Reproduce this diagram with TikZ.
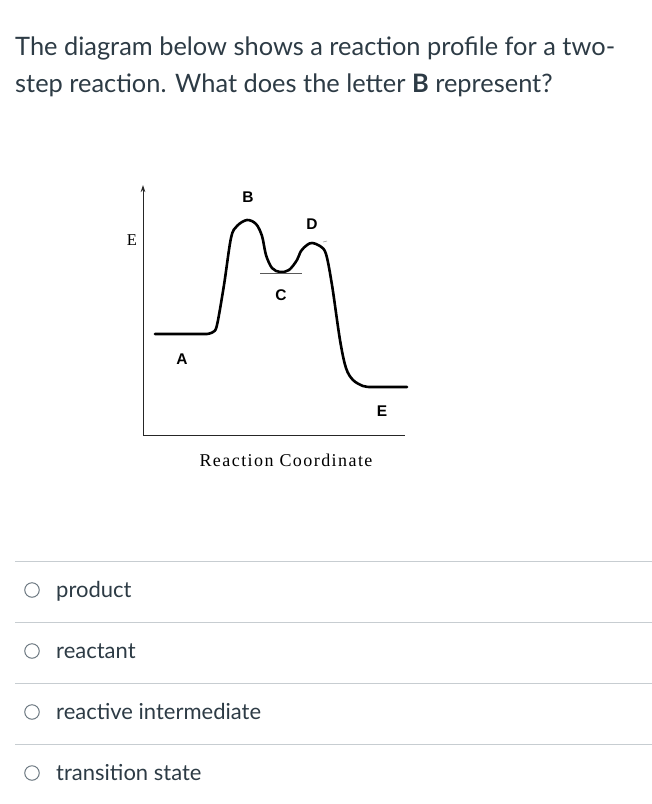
\documentclass[tikz,border=0pt]{standalone}
\usepackage{fontspec}
\setmainfont{Lato}
\newfontfamily\serifplot[LetterSpace=8]{Liberation Serif}
\newfontfamily\serifaxis{Liberation Serif}
\newfontfamily\sansbold{Liberation Sans}
\usetikzlibrary{arrows.meta}
\definecolor{txt}{HTML}{2D3B45}
\definecolor{rule}{HTML}{C7CDD1}
\definecolor{radio}{HTML}{6B7780}
\tikzset{
  qtext/.style={anchor=base west, inner sep=0pt, text=txt, font=\fontsize{25.4}{29}\selectfont},
  opttext/.style={anchor=base west, inner sep=0pt, text=txt, font=\fontsize{22}{26}\selectfont},
  lbl/.style={inner sep=0pt, font=\sansbold\bfseries\fontsize{15.5}{18}\selectfont},
  sep/.style={draw=rule, line width=0.9pt},
  radiobtn/.style={circle, draw=radio, line width=1pt, minimum size=14.5pt, inner sep=0pt},
  curve/.style={line width=2.6pt, line join=round, line cap=round},
  axis/.style={line width=1pt, draw=black!85},
}
\begin{document}
\begin{tikzpicture}[x=1pt,y=-1pt]
\useasboundingbox (0,0) rectangle (652,804);
% question
\node[qtext] (q1) at (15,55) {The diagram below shows a reaction profile for a two-};
\node[qtext] (q2) at (15,92) {step reaction. What does the letter \textbf{B} represent?};
% axes
\coordinate (org) at (143,435);
\coordinate (ytop) at (143,185);
\coordinate (xend) at (405,435);
\draw[axis,-{Stealth[length=7pt,width=4.5pt]}] (org) -- (ytop);
\draw[axis] (org) -- (xend);
% curve
\draw[curve] (155,334) -- (207,334)
  plot[smooth, tension=0.55] coordinates {(207,334) (213,332) (217,325) (224,285) (231,238) (237,226) (247,220) (256,224) (262,236) (266,255) (272,268) (280,272) (289,270) (297,260) (301,251) (307,245) (312,243) (320,246) (326,254) (332,285) (340,340) (346,368) (353,380) (363,386) (370,387)}
  -- (407,387);
% intermediate level line
\draw[draw=black!65, line width=0.8pt] (260,273) -- (302,273);
\draw[draw=black!40, line width=0.6pt] (323,242) -- (327,241);
% labels
\node[lbl] (lB) at (248,197) {B};
\node[lbl] (lD) at (312,224) {D};
\node[lbl] (lC) at (281,295) {C};
\node[lbl] (lA) at (182,359) {A};
\node[lbl] (lE) at (382,411) {E};
\node[inner sep=0pt, font=\serifaxis\fontsize{16.5}{19}\selectfont] (yl) at (132,240) {E};
\node[inner sep=0pt, font=\serifplot\fontsize{18}{21}\selectfont] (xl) at (286,460) {Reaction Coordinate};
% options
\draw[sep] (15,561) -- (652,561);
\draw[sep] (15,622) -- (652,622);
\draw[sep] (15,683) -- (652,683);
\draw[sep] (15,744) -- (652,744);
\node[radiobtn] (r1) at (32,590) {};
\node[radiobtn] (r2) at (32,651) {};
\node[radiobtn] (r3) at (32,712) {};
\node[radiobtn] (r4) at (32,773) {};
\node[opttext] (o1) at (56,597) {product};
\node[opttext] (o2) at (56,658) {reactant};
\node[opttext] (o3) at (56,719) {reactive intermediate};
\node[opttext] (o4) at (56,780) {transition state};
\end{tikzpicture}
\end{document}
